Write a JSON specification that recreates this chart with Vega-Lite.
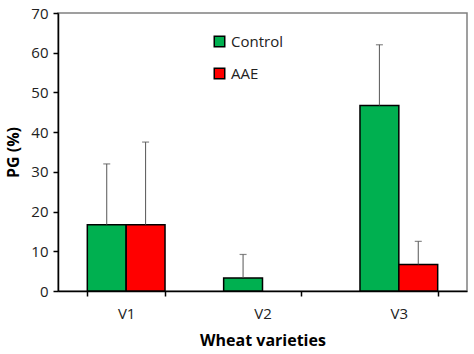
{
  "$schema": "https://vega.github.io/schema/vega-lite/v6.json",
  "width": 409,
  "height": 278,
  "autosize": "none",
  "padding": {"left": 58, "top": 13, "right": 7, "bottom": 63},
  "background": "white",
  "config": {
    "view": {"stroke": "#808080", "strokeWidth": 1.5},
    "font": "Open Sans",
    "axisY": {
      "grid": false, "labelOverlap": false,
      "domainColor": "black", "domainWidth": 1.5, "tickColor": "black", "tickWidth": 1.5, "tickSize": 5,
      "labelFontSize": 15, "labelColor": "#222", "labelPadding": 5,
      "titleFontSize": 16, "titleFontWeight": "bold", "titleColor": "black", "titlePadding": 9
    }
  },
  "data": {
    "values": [
      {"variety": "V1", "group": "Control", "value": 16.7, "upper": 32.0, "err": 15.3},
      {"variety": "V1", "group": "AAE", "value": 16.7, "upper": 37.5, "err": 20.8},
      {"variety": "V2", "group": "Control", "value": 3.3, "upper": 9.2, "err": 5.9},
      {"variety": "V2", "group": "AAE", "value": 0, "upper": 0, "err": 0},
      {"variety": "V3", "group": "Control", "value": 46.7, "upper": 62.0, "err": 15.3},
      {"variety": "V3", "group": "AAE", "value": 6.7, "upper": 12.5, "err": 5.8}
    ]
  },
  "encoding": {
    "x": {
      "field": "variety", "type": "nominal",
      "scale": {"domain": ["V1", "V2", "V3"], "paddingInner": 0.43, "paddingOuter": 0.215},
      "axis": {
        "title": "Wheat varieties", "labelAngle": 0, "tickBand": "extent",
        "domainColor": "black", "domainWidth": 1.5, "tickColor": "black", "tickWidth": 1.5, "tickSize": 5,
        "labelFontSize": 15, "labelColor": "#222", "labelPadding": 10,
        "titleFontSize": 16, "titleFontWeight": "bold", "titleColor": "black", "titlePadding": 11
      }
    },
    "xOffset": {"field": "group", "type": "nominal", "sort": ["Control", "AAE"], "scale": {"domain": ["Control", "AAE"], "paddingInner": 0}}
  },
  "layer": [
    {
      "transform": [{"filter": "datum.value > 0"}],
      "mark": {"type": "bar", "stroke": "black", "strokeWidth": 1.5},
      "encoding": {
        "y": {
          "field": "value", "type": "quantitative",
          "scale": {"domain": [0, 70], "nice": false},
          "axis": {"title": "PG (%)", "values": [0, 10, 20, 30, 40, 50, 60, 70]}
        },
        "fill": {
          "field": "group", "type": "nominal", "sort": ["Control", "AAE"],
          "scale": {"domain": ["Control", "AAE"], "range": ["#00B050", "#FF0000"]},
          "legend": {
            "title": null, "orient": "none", "legendX": 154, "legendY": 21,
            "symbolType": "square", "symbolSize": 110, "symbolStrokeColor": "black", "symbolStrokeWidth": 1.5,
            "labelFontSize": 15, "labelColor": "#222", "rowPadding": 15, "labelOffset": 4
          }
        }
      }
    },
    {
      "transform": [{"filter": "datum.err > 0"}],
      "mark": {"type": "rule", "color": "#555", "strokeWidth": 1},
      "encoding": {
        "y": {"field": "value", "type": "quantitative", "axis": {"title": "PG (%)", "values": [0, 10, 20, 30, 40, 50, 60, 70]}},
        "y2": {"field": "upper"}
      }
    },
    {
      "transform": [{"filter": "datum.err > 0"}],
      "mark": {"type": "tick", "color": "#555", "thickness": 1.2, "size": 7},
      "encoding": {
        "y": {"field": "upper", "type": "quantitative", "axis": {"title": "PG (%)", "values": [0, 10, 20, 30, 40, 50, 60, 70]}}
      }
    }
  ]
}
